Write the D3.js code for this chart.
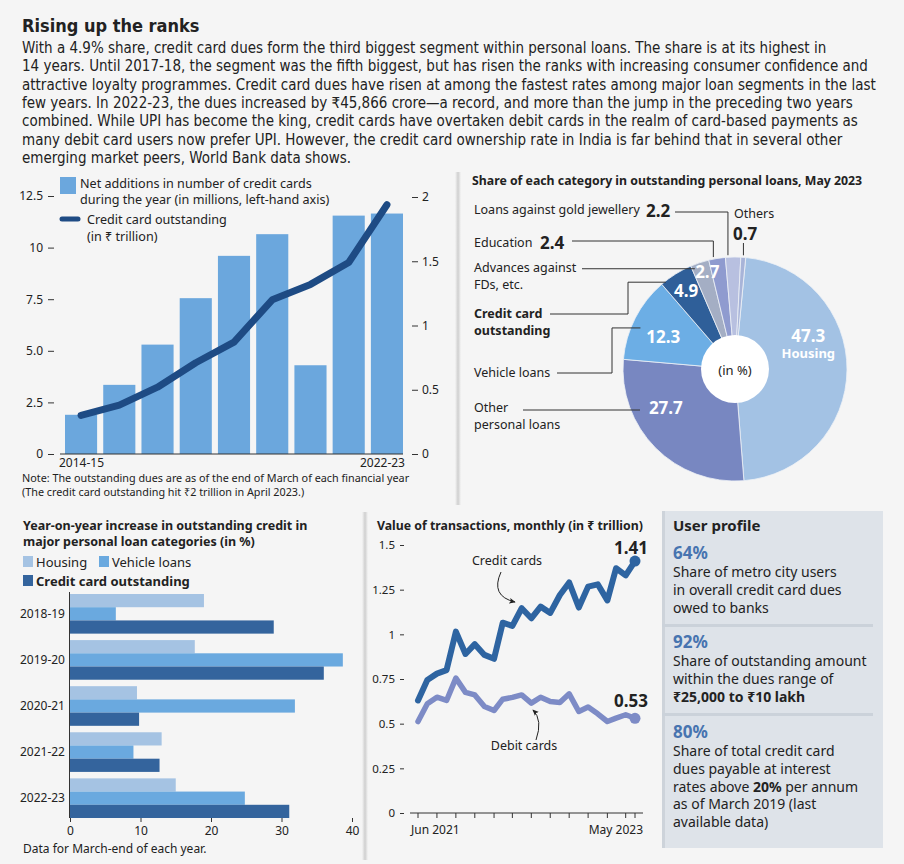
<!DOCTYPE html>
<html>
<head>
<meta charset="utf-8">
<script src="https://cdn.jsdelivr.net/npm/d3@7"></script>
<style>
  body { margin: 0; background: #f5f5f5; }
  svg { display: block; font-family: "Noto Sans", sans-serif; }
</style>
</head>
<body>
<svg id="chart" width="904" height="864"></svg>
<script>
// ---- header text
const headline = "Rising up the ranks";
const introLines = [
  "With a 4.9% share, credit card dues form the third biggest segment within personal loans. The share is at its highest in",
  "14 years. Until 2017-18, the segment was the fifth biggest, but has risen the ranks with increasing consumer confidence and",
  "attractive loyalty programmes. Credit card dues have risen at among the fastest rates among major loan segments in the last",
  "few years. In 2022-23, the dues increased by ₹45,866 crore—a record, and more than the jump in the preceding two years",
  "combined. While UPI has become the king, credit cards have overtaken debit cards in the realm of card-based payments as",
  "many debit card users now prefer UPI. However, the credit card ownership rate in India is far behind that in several other",
  "emerging market peers, World Bank data shows."
];

// ---- net additions vs outstanding
const fiscalYears = ["2014-15", "2015-16", "2016-17", "2017-18", "2018-19", "2019-20", "2020-21", "2021-22", "2022-23"];
const netAdditions = [1.9, 3.35, 5.3, 7.55, 9.6, 10.65, 4.3, 11.55, 11.65];   // millions
const ccOutstanding = [0.30, 0.38, 0.52, 0.71, 0.87, 1.20, 1.32, 1.49, 1.94]; // ₹ trillion
const leftTicks = [0, 2.5, 5, 7.5, 10, 12.5];
const leftTickLabels = ["0", "2.5", "5.0", "7.5", "10", "12.5"];
const rightTicks = [0, 0.5, 1, 1.5, 2];

// ---- share of personal loans
const loanCategories = ["Housing", "Other personal loans", "Vehicle loans", "Credit card outstanding",
  "Advances against FDs, etc.", "Education", "Loans against gold jewellery", "Others"];
const loanShares = [47.3, 27.7, 12.3, 4.9, 2.7, 2.4, 2.2, 0.7];
const loanColors = ["#a3c2e4", "#7887c1", "#6caee5", "#2f5f99", "#a4aec4", "#8f9bcf", "#b8c0e0", "#a8b4d8"];

// ---- year-on-year growth
const yoyYears = ["2018-19", "2019-20", "2020-21", "2021-22", "2022-23"];
const yoySeries = ["Housing", "Vehicle loans", "Credit card outstanding"];
const housingGrowth = [19.0, 17.7, 9.5, 13.0, 15.0];
const vehicleGrowth = [6.5, 38.7, 31.9, 9.0, 24.8];
const creditGrowth = [28.9, 36.0, 9.8, 12.7, 31.1];
const yoyColors = ["#a5c3e3", "#6aa9df", "#34649d"];

// ---- monthly transactions
const txMonths = ["2021-06", "2021-07", "2021-08", "2021-09", "2021-10", "2021-11", "2021-12", "2022-01",
  "2022-02", "2022-03", "2022-04", "2022-05", "2022-06", "2022-07", "2022-08", "2022-09", "2022-10",
  "2022-11", "2022-12", "2023-01", "2023-02", "2023-03", "2023-04", "2023-05"];
const creditTx = [0.63, 0.745, 0.78, 0.80, 1.015, 0.89, 0.945, 0.885, 0.863, 1.065, 1.047, 1.146,
  1.09, 1.155, 1.12, 1.22, 1.29, 1.15, 1.267, 1.28, 1.19, 1.37, 1.33, 1.41];
const debitTx = [0.512, 0.611, 0.648, 0.63, 0.755, 0.675, 0.661, 0.596, 0.574, 0.637, 0.647, 0.661,
  0.615, 0.648, 0.624, 0.619, 0.667, 0.568, 0.593, 0.555, 0.512, 0.531, 0.55, 0.53];
const txTicks = [0, 0.25, 0.5, 0.75, 1, 1.25, 1.5];

const svg = d3.select("#chart");
const ink = "#222";

svg.append("rect").attr("width", 904).attr("height", 864).attr("fill", "#f5f5f5");

// soft divider shadows
const defs = svg.append("defs");
const grad = defs.append("linearGradient").attr("id", "shade");
grad.append("stop").attr("offset", "0%").attr("stop-color", "#f5f5f5");
grad.append("stop").attr("offset", "50%").attr("stop-color", "#cfcfcf");
grad.append("stop").attr("offset", "100%").attr("stop-color", "#f5f5f5");
svg.append("rect").attr("x", 455).attr("y", 172).attr("width", 6).attr("height", 333).attr("fill", "url(#shade)");
svg.append("rect").attr("x", 362).attr("y", 512).attr("width", 6).attr("height", 348).attr("fill", "url(#shade)");

// ===== header
const header = svg.append("g").style("font-family", "'DejaVu Sans Condensed', 'Liberation Sans Narrow', sans-serif");
header.append("text").attr("x", 22).attr("y", 32).attr("font-size", 18).attr("font-weight", "bold")
  .attr("fill", ink).text(headline);
header.selectAll("text.intro").data(introLines).join("text").attr("class", "intro")
  .attr("x", 22).attr("y", (d, i) => 53 + i * 18.3)
  .attr("font-size", 15).attr("fill", ink).text(d => d);

// ===== chart 1: bars + line
{
  const g = svg.append("g");
  const x = d3.scaleBand().domain(fiscalYears).range([65, 403]).paddingInner(0.16).paddingOuter(0);
  const yL = d3.scaleLinear().domain([0, 12.5]).range([454, 196]);
  const yR = d3.scaleLinear().domain([0, 2]).range([454, 197]);

  g.selectAll("rect.bar").data(fiscalYears).join("rect").attr("class", "bar")
    .attr("x", d => x(d)).attr("width", x.bandwidth())
    .attr("y", (d, i) => yL(netAdditions[i]))
    .attr("height", (d, i) => yL(0) - yL(netAdditions[i]))
    .attr("fill", "#6ba7dd");

  g.append("line").attr("x1", 60).attr("x2", 403).attr("y1", yL(0)).attr("y2", yL(0))
    .attr("stroke", "#333").attr("stroke-width", 1);

  const line = d3.line().x((d, i) => x(fiscalYears[i]) + x.bandwidth() / 2).y(d => yR(d));
  g.append("path").datum(ccOutstanding).attr("d", line).attr("fill", "none")
    .attr("stroke", "#1e4b84").attr("stroke-width", 7).attr("stroke-linecap", "round").attr("stroke-linejoin", "round");

  const axL = g.append("g").attr("transform", "translate(54,0)")
    .call(d3.axisLeft(yL).tickValues(leftTicks).tickSize(6).tickPadding(5).tickFormat((d, i) => leftTickLabels[i]));
  const axR = g.append("g").attr("transform", "translate(412,0)")
    .call(d3.axisRight(yR).tickValues(rightTicks).tickSize(6).tickPadding(4).tickFormat(d3.format("")));
  [axL, axR].forEach(a => {
    a.select(".domain").remove();
    a.selectAll("line").attr("stroke", "#333");
    a.selectAll("text").attr("font-size", 12).attr("fill", ink).style("font-family", "'Noto Sans', sans-serif");
  });

  g.append("text").attr("x", 59).attr("y", 467).attr("font-size", 12).attr("fill", ink).text(fiscalYears[0]);
  g.append("text").attr("x", 405).attr("y", 467).attr("text-anchor", "end").attr("font-size", 12).attr("fill", ink)
    .text(fiscalYears[fiscalYears.length - 1]);

  // legend
  g.append("rect").attr("x", 60).attr("y", 177).attr("width", 16).attr("height", 17).attr("fill", "#6ba7dd");
  g.append("text").attr("x", 80).attr("y", 188).attr("font-size", 12.6).attr("fill", ink).text("Net additions in number of credit cards");
  g.append("text").attr("x", 80).attr("y", 204).attr("font-size", 12.6).attr("fill", ink).text("during the year (in millions, left-hand axis)");
  g.append("line").attr("x1", 62).attr("x2", 78).attr("y1", 219).attr("y2", 219)
    .attr("stroke", "#1e4b84").attr("stroke-width", 5).attr("stroke-linecap", "round");
  g.append("text").attr("x", 87).attr("y", 224).attr("font-size", 12.6).attr("fill", ink).text("Credit card outstanding");
  g.append("text").attr("x", 87).attr("y", 241).attr("font-size", 12.6).attr("fill", ink).text("(in ₹ trillion)");

  g.append("text").attr("x", 22).attr("y", 482).attr("font-size", 10.8).attr("fill", ink)
    .text("Note: The outstanding dues are as of the end of March of each financial year");
  g.append("text").attr("x", 22).attr("y", 496).attr("font-size", 10.8).attr("fill", ink)
    .text("(The credit card outstanding hit ₹2 trillion in April 2023.)");
}

// ===== chart 2: pie
{
  const g = svg.append("g");
  g.append("text").attr("x", 472).attr("y", 185).attr("font-size", 12.3).attr("font-weight", "bold").attr("fill", ink)
    .text("Share of each category in outstanding personal loans, May 2023");

  const cx = 735, cy = 369, R = 112;
  const start = 0.096;
  const pie = d3.pie().sort(null).startAngle(start).endAngle(start + 2 * Math.PI);
  const arcs = pie(loanShares);
  const arc = d3.arc().innerRadius(0).outerRadius(R);
  const pg = g.append("g").attr("transform", `translate(${cx},${cy})`);
  pg.selectAll("path").data(arcs).join("path").attr("d", arc)
    .attr("fill", (d, i) => loanColors[i]).attr("stroke", "#eef1f6").attr("stroke-width", 0.8);
  pg.append("circle").attr("r", 34).attr("fill", "#fff");
  pg.append("text").attr("y", 6).attr("text-anchor", "middle").attr("font-size", 13).attr("fill", ink).text("(in %)");

  const polar = (a, r) => [cx + r * Math.sin(a), cy - r * Math.cos(a)];
  const mid = i => (arcs[i].startAngle + arcs[i].endAngle) / 2;

  // in-slice values
  const inner = [
    { i: 0, r: 77, da: -0.32, dy: -3 },
    { i: 1, r: 78, da: 0.3, dy: 9 },
    { i: 2, r: 78, da: -0.07, dy: 5 },
    { i: 3, r: 88, da: -0.03, dy: 1 },
    { i: 4, r: 100, da: 0.04, dy: 5 }
  ];
  inner.forEach(o => {
    const [px, py] = polar(mid(o.i) + o.da, o.r);
    g.append("text").attr("x", px).attr("y", py + o.dy).attr("text-anchor", "middle")
      .attr("font-size", 17).attr("font-weight", "bold").attr("fill", "#fff").text(loanShares[o.i]);
  });
  {
    const [px, py] = polar(mid(0) - 0.32, 77);
    g.append("text").attr("x", px).attr("y", py + 13).attr("text-anchor", "middle")
      .attr("font-size", 13).attr("font-weight", "bold").attr("fill", "#fff").text("Housing");
  }

  const lead = g.append("g").attr("fill", "none").attr("stroke", "#333").attr("stroke-width", 1);
  const lab = (x, y, t, opt = {}) => g.append("text").attr("x", x).attr("y", y)
    .attr("font-size", opt.size || 12.5).attr("font-weight", opt.bold ? "bold" : null).attr("fill", ink).text(t);

  // gold
  lab(474, 214, "Loans against gold jewellery");
  lab(646, 217, "2.2", { size: 17, bold: true });
  let p = polar(mid(6) - 0.045, R + 2);
  lead.append("path").attr("d", `M675,212H${p[0]}V${p[1]}`);
  // others
  lab(734, 218, "Others");
  lab(733, 240, "0.7", { size: 17, bold: true });
  p = polar(mid(7), R + 2);
  lead.append("path").attr("d", `M${p[0]},243V${p[1]}`);
  // education
  lab(474, 247, "Education");
  lab(540, 249, "2.4", { size: 17, bold: true });
  p = polar(mid(5) - 0.03, R + 2);
  lead.append("path").attr("d", `M572,241H${p[0]}V${p[1]}`);
  // advances
  lab(474, 272, "Advances against");
  lab(474, 289, "FDs, etc.");
  p = polar(mid(4) - 0.06, R - 4);
  lead.append("path").attr("d", `M582,${p[1]}H${p[0]}`);
  // credit card
  lab(474, 318, "Credit card", { bold: true });
  lab(474, 335, "outstanding", { bold: true });
  p = polar(arcs[3].startAngle + 0.04, R - 1);
  lead.append("path").attr("d", `M550,314H628V${p[1]}H${p[0]}`);
  // vehicle
  lab(474, 377, "Vehicle loans");
  p = polar(mid(2) - 0.02, R - 18);
  lead.append("path").attr("d", `M557,373H612V${p[1]}H${p[0] - 10}`);
  // other personal
  lab(474, 412, "Other");
  lab(474, 429, "personal loans");
  lead.append("path").attr("d", "M523,410H640");
}

// ===== chart 3: YoY bars
{
  const g = svg.append("g");
  g.append("text").attr("x", 23).attr("y", 530).attr("font-size", 12.5).attr("font-weight", "bold").attr("fill", ink)
    .text("Year-on-year increase in outstanding credit in");
  g.append("text").attr("x", 23).attr("y", 546).attr("font-size", 12.5).attr("font-weight", "bold").attr("fill", ink)
    .text("major personal loan categories (in %)");

  // legend
  const legendPos = [[23, 556], [99, 556], [23, 575]];
  yoySeries.forEach((s, i) => {
    g.append("rect").attr("x", legendPos[i][0]).attr("y", legendPos[i][1]).attr("width", 10).attr("height", 11)
      .attr("fill", yoyColors[i]);
    g.append("text").attr("x", legendPos[i][0] + 13).attr("y", legendPos[i][1] + 11).attr("font-size", 13)
      .attr("font-weight", i === 2 ? "bold" : null).attr("fill", ink).text(s);
  });

  const values = [housingGrowth, vehicleGrowth, creditGrowth];
  const y0 = d3.scaleBand().domain(yoyYears).range([594, 818]).paddingInner(0.14).paddingOuter(0);
  const y1 = d3.scaleBand().domain(yoySeries).range([0, y0.bandwidth()]);
  const x = d3.scaleLinear().domain([0, 40]).range([70, 352]);

  const grp = g.selectAll("g.yr").data(yoyYears).join("g").attr("class", "yr")
    .attr("transform", d => `translate(0,${y0(d)})`);
  grp.selectAll("rect").data((d, j) => yoySeries.map((s, i) => ({ s, i, v: values[i][j] }))).join("rect")
    .attr("x", x(0)).attr("y", d => y1(d.s)).attr("height", y1.bandwidth())
    .attr("width", d => x(d.v) - x(0)).attr("fill", d => yoyColors[d.i]);

  g.append("line").attr("x1", 69.5).attr("x2", 69.5).attr("y1", 592).attr("y2", 818).attr("stroke", "#333");

  const ax = g.append("g").attr("transform", "translate(0,818)")
    .call(d3.axisBottom(x).tickValues([0, 10, 20, 30, 40]).tickSize(4).tickPadding(4).tickFormat(d3.format("")));
  ax.select(".domain").remove();
  ax.selectAll("line").attr("stroke", "#333");
  ax.selectAll("text").attr("font-size", 12).attr("fill", ink).style("font-family", "'Noto Sans', sans-serif");

  g.selectAll("text.yl").data(yoyYears).join("text").attr("class", "yl")
    .attr("x", 65).attr("y", d => y0(d) + y0.bandwidth() / 2 + 4).attr("text-anchor", "end")
    .attr("font-size", 12).attr("fill", ink).text(d => d);

  g.append("text").attr("x", 23).attr("y", 853).attr("font-size", 12).attr("fill", ink).text("Data for March-end of each year.");
}

// ===== chart 4: monthly transactions
{
  const g = svg.append("g");
  g.append("text").attr("x", 377).attr("y", 530).attr("font-size", 12.3).attr("font-weight", "bold").attr("fill", ink)
    .text("Value of transactions, monthly (in ₹ trillion)");

  const parse = d3.timeParse("%Y-%m");
  const dates = txMonths.map(parse);
  const x = d3.scaleTime().domain(d3.extent(dates)).range([418, 635]);
  const y = d3.scaleLinear().domain([0, 1.5]).range([813, 545]);

  const ay = g.append("g").attr("transform", "translate(404,0)")
    .call(d3.axisLeft(y).tickValues(txTicks).tickSize(4).tickPadding(5).tickFormat(d3.format("")));
  ay.select(".domain").remove();
  ay.selectAll("line").attr("stroke", "#333");
  ay.selectAll("text").attr("font-size", 11.5).attr("fill", ink).style("font-family", "'Noto Sans', sans-serif");

  g.append("line").attr("x1", 410).attr("x2", 643).attr("y1", 813).attr("y2", 813).attr("stroke", "#333");
  const tickDates = dates.filter((d, i) => i % 2 === 0 || i === dates.length - 1);
  g.selectAll("line.xt").data(tickDates).join("line").attr("class", "xt")
    .attr("x1", d => x(d)).attr("x2", d => x(d)).attr("y1", 813).attr("y2", 818).attr("stroke", "#333");
  g.append("text").attr("x", 411).attr("y", 834).attr("font-size", 12).attr("fill", ink).text("Jun 2021");
  g.append("text").attr("x", 643).attr("y", 834).attr("text-anchor", "end").attr("font-size", 12).attr("fill", ink).text("May 2023");

  const line = d3.line().x((d, i) => x(dates[i])).y(d => y(d));
  const series = [
    { v: debitTx, c: "#7d8bc6", w: 5.5, dy: -11 },
    { v: creditTx, c: "#2e64a1", w: 6, dy: -7 }
  ];
  series.forEach(s => {
    g.append("path").datum(s.v).attr("d", line).attr("fill", "none").attr("stroke", s.c)
      .attr("stroke-width", s.w).attr("stroke-linejoin", "round").attr("stroke-linecap", "round");
    const last = s.v.length - 1;
    g.append("circle").attr("cx", x(dates[last])).attr("cy", y(s.v[last])).attr("r", 5.5).attr("fill", s.c);
    g.append("text").attr("x", x(dates[last]) - 4).attr("y", y(s.v[last]) + s.dy).attr("text-anchor", "middle")
      .attr("font-size", 17).attr("font-weight", "bold").attr("fill", ink).text(s.v[last].toFixed(2));
  });

  defs.append("marker").attr("id", "arrow").attr("viewBox", "0 0 10 10").attr("refX", 8).attr("refY", 5)
    .attr("markerWidth", 7).attr("markerHeight", 7).attr("orient", "auto")
    .append("path").attr("d", "M0,1L9,5L0,9L2,5Z").attr("fill", "#222");

  g.append("text").attr("x", 507).attr("y", 565).attr("text-anchor", "middle").attr("font-size", 12.5).attr("fill", ink).text("Credit cards");
  g.append("path").attr("d", "M501,572Q490,596 515,602").attr("fill", "none").attr("stroke", "#222")
    .attr("stroke-width", 1).attr("marker-end", "url(#arrow)");
  g.append("text").attr("x", 524).attr("y", 750).attr("text-anchor", "middle").attr("font-size", 12.5).attr("fill", ink).text("Debit cards");
  g.append("path").attr("d", "M536,740Q543,720 533,710").attr("fill", "none").attr("stroke", "#222")
    .attr("stroke-width", 1).attr("marker-end", "url(#arrow)");
}

// ===== user profile panel
{
  const g = svg.append("g");
  g.append("rect").attr("x", 662).attr("y", 511).attr("width", 221).attr("height", 337).attr("fill", "#dee3e9");
  g.append("rect").attr("x", 662).attr("y", 511).attr("width", 3).attr("height", 337).attr("fill", "#cdd3da");
  [624, 713].forEach(yy => g.append("rect").attr("x", 662).attr("y", yy).attr("width", 211).attr("height", 3).attr("fill", "#cbd2da"));

  g.append("text").attr("x", 673).attr("y", 531).attr("font-size", 15).attr("font-weight", "bold").attr("fill", ink).text("User profile");

  const stats = [
    { v: "64%", y: 559, lines: [["Share of metro city users"], ["in overall credit card dues"], ["owed to banks"]] },
    { v: "92%", y: 648, lines: [["Share of outstanding amount"], ["within the dues range of"], [null, "₹25,000 to ₹10 lakh"]] },
    { v: "80%", y: 738, lines: [["Share of total credit card"], ["dues payable at interest"], ["rates above ", "20%", " per annum"], ["as of March 2019 (last"], ["available data)"]] }
  ];
  stats.forEach(s => {
    g.append("text").attr("x", 673).attr("y", s.y).attr("font-size", 17).attr("font-weight", "bold")
      .attr("fill", "#4774b0").text(s.v);
    s.lines.forEach((parts, k) => {
      const t = g.append("text").attr("x", 673).attr("y", s.y + 18.3 + k * 17.6).attr("font-size", 14).attr("fill", ink);
      parts.forEach((pt, j) => {
        if (pt === null) return;
        t.append("tspan").attr("font-weight", j % 2 === 1 ? "bold" : null).text(pt);
      });
    });
  });
}
</script>
</body>
</html>
